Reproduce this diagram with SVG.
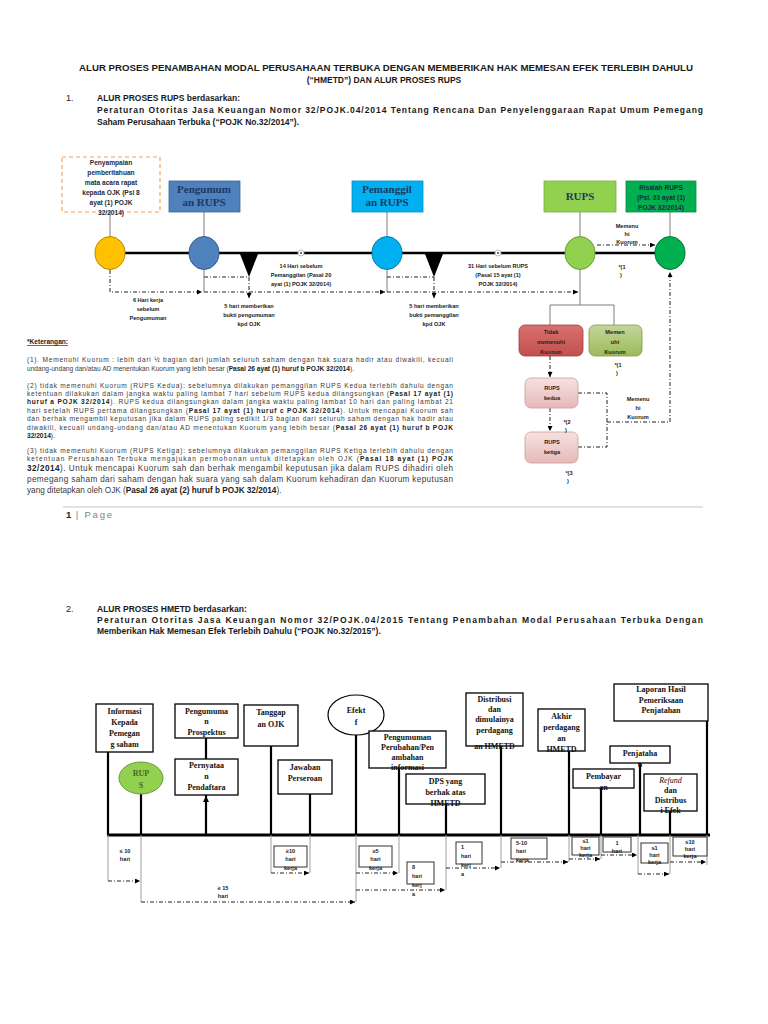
<svg xmlns="http://www.w3.org/2000/svg" width="768" height="1024" viewBox="0 0 768 1024">
<defs>
<marker id="ah" viewBox="0 0 6 6" refX="6" refY="3" markerWidth="5" markerHeight="5" orient="auto"><path d="M0,0 L6,3 L0,6 z" fill="#000"/></marker>
<linearGradient id="gRed" x1="0" y1="0" x2="0" y2="1"><stop offset="0" stop-color="#d9716e"/><stop offset="1" stop-color="#c0504d"/></linearGradient>
<linearGradient id="gGrn" x1="0" y1="0" x2="0" y2="1"><stop offset="0" stop-color="#c3d69b"/><stop offset="1" stop-color="#9bbb59"/></linearGradient>
<linearGradient id="gPnk" x1="0" y1="0" x2="0" y2="1"><stop offset="0" stop-color="#f5e1e0"/><stop offset="1" stop-color="#e6b9b8"/></linearGradient>
</defs>
<style>
.h{font-family:"Liberation Sans",Arial,sans-serif;font-weight:bold;font-size:8.5px;fill:#1a1a1a}
.n{font-family:"Liberation Sans",Arial,sans-serif;font-size:9px;fill:#1a1a1a}
.k{font-family:"Liberation Sans",Arial,sans-serif;font-size:6.6px;fill:#3a3a3a}
.kl{font-family:"Liberation Sans",Arial,sans-serif;font-size:8.2px;fill:#3a3a3a}
.kb{font-weight:bold;fill:#222}
.lb{font-family:"Liberation Serif","Times New Roman",serif;font-weight:bold;font-size:11px;fill:#1f3864;text-anchor:middle}
.lbs{font-family:"Liberation Sans",Arial,sans-serif;font-weight:bold;font-size:6.6px;fill:#1f2a3a;text-anchor:middle}
.sm{font-family:"Liberation Sans",Arial,sans-serif;font-weight:bold;font-size:5.6px;fill:#222;text-anchor:middle}
.b2{font-family:"Liberation Serif","Times New Roman",serif;font-weight:bold;font-size:8px;fill:#111;text-anchor:middle}
.tiny{font-family:"Liberation Sans",Arial,sans-serif;font-weight:bold;font-size:5.5px;fill:#222}
.tl{stroke:#7f7f7f;stroke-width:1;fill:none}
.dash{stroke:#222;stroke-width:1;fill:none;stroke-dasharray:4 2 1 2}
.box{fill:#fff;stroke:#000;stroke-width:1.3}
.vt{stroke:#000;stroke-width:2.2;fill:none}
.gl{stroke:#a0a0a0;stroke-width:1;fill:none}
.sb{fill:#fff;stroke:#333;stroke-width:1}
</style>
<rect width="768" height="1024" fill="#fff"/>

<!-- headings -->
<text class="h" x="79" y="71" textLength="614" lengthAdjust="spacingAndGlyphs">ALUR PROSES PENAMBAHAN MODAL PERUSAHAAN TERBUKA DENGAN MEMBERIKAN HAK MEMESAN EFEK TERLEBIH DAHULU</text>
<text class="h" x="384" y="83" text-anchor="middle">(“HMETD”) DAN ALUR PROSES RUPS</text>
<text class="n" x="66" y="101">1.</text>
<text class="h" x="97" y="101">ALUR PROSES RUPS berdasarkan:</text>
<text class="h" x="97" y="113" textLength="606" lengthAdjust="spacing">Peraturan Otoritas Jasa Keuangan Nomor 32/POJK.04/2014 Tentang Rencana Dan Penyelenggaraan Rapat Umum Pemegang</text>
<text class="h" x="97" y="125">Saham Perusahaan Terbuka (“POJK No.32/2014”).</text>

<!-- Diagram 1 connectors -->
<g id="connectors1">
<line x1="110" y1="253" x2="670" y2="253" stroke="#000" stroke-width="2.5"/>
<path class="tl" d="M110,212 V236 M204,212 V236 M387,212 V236 M580,212 V236 M670,212 V236"/>
<path class="tl" d="M204,270 V292 M387,270 V292 M580,270 V305 M550,305 H614 M550,305 V325 M614,305 V325"/>
<path class="dash" d="M110,270 V292 H202" marker-end="url(#ah)"/>
<path class="dash" d="M204,292 H385" marker-end="url(#ah)"/>
<path class="dash" d="M387,292 H578" marker-end="url(#ah)"/>
<path class="dash" d="M204,277 H249"/>
<path class="dash" d="M249,277 V298" marker-end="url(#ah)"/>
<path class="dash" d="M387,277 H434"/>
<path class="dash" d="M434,277 V298" marker-end="url(#ah)"/>
<path class="dash" d="M597,245 H655" marker-end="url(#ah)"/>
<path class="dash" d="M550,356 V377" marker-end="url(#ah)"/>
<path class="dash" d="M550,408 V431" marker-end="url(#ah)"/>
<path class="dash" d="M578,393 H607 V447 H578"/>
<path class="dash" d="M607,422 H670 V272" marker-end="url(#ah)"/>
<path d="M240,254 H258 L249,277 Z" fill="#000"/>
<path d="M425,254 H443 L434,277 Z" fill="#000"/>
<circle cx="301" cy="253" r="3" fill="#fff" stroke="#bbb" stroke-width="1"/><circle cx="301" cy="253" r="1" fill="#444"/>
<circle cx="498" cy="253" r="3" fill="#fff" stroke="#bbb" stroke-width="1"/><circle cx="498" cy="253" r="1" fill="#444"/>
</g>

<!-- Diagram 1 nodes -->
<g id="n-penyampaian">
<rect x="62" y="157" width="98" height="55" fill="#fff" stroke="#f4a460" stroke-width="1.2" stroke-dasharray="4 3"/>
<text class="lbs" x="111" y="165">Penyampaian</text>
<text class="lbs" x="111" y="175">pemberitahuan</text>
<text class="lbs" x="111" y="185">mata acara rapat</text>
<text class="lbs" x="111" y="195">kepada OJK (Psl 8</text>
<text class="lbs" x="111" y="205">ayat (1) POJK</text>
<text class="lbs" x="111" y="215">32/2014)</text>
</g>
<g id="n-pengumuman">
<rect x="169" y="181" width="71" height="31" fill="#4f81bd" stroke="#3a6699" stroke-width="0.8"/>
<text class="lb" x="204" y="193">Pengumum</text>
<text class="lb" x="204" y="206">an RUPS</text>
</g>
<g id="n-pemanggilan">
<rect x="352" y="181" width="71" height="31" fill="#00b0f0" stroke="#0090c8" stroke-width="0.8"/>
<text class="lb" x="387" y="193">Pemanggil</text>
<text class="lb" x="387" y="206">an RUPS</text>
</g>
<g id="n-rups">
<rect x="544" y="181" width="72" height="31" fill="#92d050" stroke="#7ab040" stroke-width="0.8"/>
<text class="lb" x="580" y="200">RUPS</text>
</g>
<g id="n-risalah">
<rect x="626" y="181" width="70" height="31" fill="#00b050" stroke="#009040" stroke-width="0.8"/>
<text class="lbs" x="661" y="190">Risalah RUPS</text>
<text class="lbs" x="661" y="200">(Psl. 33 ayat (1)</text>
<text class="lbs" x="661" y="210">POJK 32/2014)</text>
</g>
<g id="c-yellow"><ellipse cx="110" cy="253" rx="15" ry="16.5" fill="#ffc000" stroke="#b58a00" stroke-width="1"/></g>
<g id="c-blue"><ellipse cx="204" cy="253" rx="15" ry="16.5" fill="#4f81bd" stroke="#385d8a" stroke-width="1"/></g>
<g id="c-cyan"><ellipse cx="387" cy="253" rx="15" ry="16.5" fill="#00b0f0" stroke="#0080b0" stroke-width="1"/></g>
<g id="c-lgreen"><ellipse cx="580" cy="253" rx="15" ry="16.5" fill="#92d050" stroke="#6a9a3a" stroke-width="1"/></g>
<g id="c-green"><ellipse cx="670" cy="253" rx="15" ry="16.5" fill="#00b050" stroke="#007a38" stroke-width="1"/></g>
<g id="n-tidak">
<rect x="519" y="325" width="64" height="31" rx="6" fill="url(#gRed)" stroke="#a03c3a" stroke-width="0.8"/>
<text class="sm" x="551" y="334">Tidak</text>
<text class="sm" x="551" y="344">memenuhi</text>
<text class="sm" x="551" y="354">Kuorum</text>
</g>
<g id="n-memenuhi">
<rect x="589" y="325" width="53" height="31" rx="6" fill="url(#gGrn)" stroke="#7f9a48" stroke-width="0.8"/>
<text class="sm" x="615" y="334">Memen</text>
<text class="sm" x="615" y="344">uhi</text>
<text class="sm" x="615" y="354">Kuorum</text>
</g>
<g id="n-kedua">
<rect x="525" y="378" width="53" height="30" rx="6" fill="url(#gPnk)" stroke="#d09a98" stroke-width="0.8"/>
<text class="sm" x="552" y="390">RUPS</text>
<text class="sm" x="552" y="400">kedua</text>
</g>
<g id="n-ketiga">
<rect x="525" y="432" width="53" height="31" rx="6" fill="url(#gPnk)" stroke="#d09a98" stroke-width="0.8"/>
<text class="sm" x="552" y="444">RUPS</text>
<text class="sm" x="552" y="454">ketiga</text>
</g>

<!-- Diagram 1 labels -->
<g id="labels1">
<text class="sm" x="301" y="268">14 Hari sebelum</text>
<text class="sm" x="301" y="277">Pemanggilan (Pasal 20</text>
<text class="sm" x="301" y="286">ayat (1) POJK 32/2014)</text>
<text class="sm" x="498" y="268">31 Hari sebelum RUPS</text>
<text class="sm" x="498" y="277">(Pasal 15 ayat (1)</text>
<text class="sm" x="498" y="286">POJK 32/2014)</text>
<text class="sm" x="148" y="302">6 Hari kerja</text>
<text class="sm" x="148" y="311">sebelum</text>
<text class="sm" x="148" y="320">Pengumuman</text>
<text class="sm" x="249" y="308">5 hari memberikan</text>
<text class="sm" x="249" y="317">bukti pengumuman</text>
<text class="sm" x="249" y="326">kpd OJK</text>
<text class="sm" x="434" y="308">5 hari memberikan</text>
<text class="sm" x="434" y="317">bukti pemanggilan</text>
<text class="sm" x="434" y="326">kpd OJK</text>
<text class="sm" x="627" y="228">Memenu</text>
<text class="sm" x="627" y="236">hi</text>
<text class="sm" x="627" y="244">Kuorum</text>
<text class="sm" x="622" y="269">*(1</text>
<text class="sm" x="621" y="277">)</text>
<text class="sm" x="618" y="367">*(1</text>
<text class="sm" x="617" y="375">)</text>
<text class="sm" x="567" y="424">*(2</text>
<text class="sm" x="566" y="432">)</text>
<text class="sm" x="569" y="475">*(3</text>
<text class="sm" x="568" y="483">)</text>
<text class="sm" x="638" y="401">Memenu</text>
<text class="sm" x="638" y="410">hi</text>
<text class="sm" x="638" y="419">Kuorum</text>
</g>

<!-- Keterangan -->
<g id="keterangan">
<text class="k kb" x="27" y="344" text-decoration="underline">*Keterangan:</text>
<text class="k" x="27" y="362" textLength="426" lengthAdjust="spacing">(1). Memenuhi Kuorum : lebih dari ½ bagian dari jumlah seluruh saham dengan hak suara hadir atau diwakili, kecuali</text>
<text class="k" x="27" y="371">undang-undang dan/atau AD menentukan Kuorum yang lebih besar (<tspan class="kb">Pasal 26 ayat (1) huruf b POJK 32/2014</tspan>).</text>
<text class="k" x="27" y="388" textLength="426" lengthAdjust="spacing">(2) tidak memenuhi Kuorum (RUPS Kedua): sebelumnya dilakukan pemanggilan RUPS Kedua terlebih dahulu dengan</text>
<text class="k" x="27" y="396" textLength="426" lengthAdjust="spacing">ketentuan dilakukan dalam jangka waktu paling lambat 7 hari sebelum RUPS kedua dilangsungkan (<tspan class="kb">Pasal 17 ayat (1)</tspan></text>
<text class="k" x="27" y="404" textLength="426" lengthAdjust="spacing"><tspan class="kb">huruf a POJK 32/2014</tspan>). RUPS kedua dilangsungkan dalam jangka waktu paling lambat 10 hari dan paling lambat 21</text>
<text class="k" x="27" y="413" textLength="426" lengthAdjust="spacing">hari setelah RUPS pertama dilangsungkan (<tspan class="kb">Pasal 17 ayat (1) huruf c POJK 32/2014</tspan>). Untuk mencapai Kuorum sah</text>
<text class="k" x="27" y="421" textLength="426" lengthAdjust="spacing">dan berhak mengambil keputusan jika dalam RUPS paling sedikit 1/3 bagian dari seluruh saham dengan hak hadir atau</text>
<text class="k" x="27" y="430" textLength="426" lengthAdjust="spacing">diwakili, kecuali undang-undang dan/atau AD menentukan Kuorum yang lebih besar (<tspan class="kb">Pasal 26 ayat (1) huruf b POJK</tspan></text>
<text class="k kb" x="27" y="438">32/2014<tspan font-weight="normal">).</tspan></text>
<text class="k" x="27" y="453" textLength="426" lengthAdjust="spacing">(3) tidak memenuhi Kuorum (RUPS Ketiga): sebelumnya dilakukan pemanggilan RUPS Ketiga terlebih dahulu dengan</text>
<text class="k" x="27" y="461" textLength="426" lengthAdjust="spacing">ketentuan Perusahaan Terbuka mengajukan permohonan untuk ditetapkan oleh OJK (<tspan class="kb">Pasal 18 ayat (1) POJK</tspan></text>
<text class="kl" x="27" y="471" textLength="426" lengthAdjust="spacing"><tspan class="kb">32/2014</tspan>). Untuk mencapai Kuorum sah dan berhak mengambil keputusan jika dalam RUPS dihadiri oleh</text>
<text class="kl" x="27" y="482" textLength="426" lengthAdjust="spacing">pemegang saham dari saham dengan hak suara yang sah dalam Kuorum kehadiran dan Kuorum keputusan</text>
<text class="kl" x="27" y="493">yang ditetapkan oleh OJK (<tspan class="kb">Pasal 26 ayat (2) huruf b POJK 32/2014</tspan>).</text>
</g>

<!-- footer -->
<line x1="63" y1="507" x2="703" y2="507" stroke="#d9d9d9" stroke-width="1.5"/>
<text x="66" y="518" font-family="Liberation Sans,Arial,sans-serif" font-size="9.5" font-weight="bold" fill="#222">1<tspan font-weight="normal" fill="#7f7f7f" letter-spacing="1.8"> | Page</tspan></text>

<!-- section 2 heading -->
<text class="n" x="66" y="612">2.</text>
<text class="h" x="97" y="612">ALUR PROSES HMETD berdasarkan:</text>
<text class="h" x="97" y="623" textLength="606" lengthAdjust="spacing">Peraturan Otoritas Jasa Keuangan Nomor 32/POJK.04/2015 Tentang Penambahan Modal Perusahaan Terbuka Dengan</text>
<text class="h" x="97" y="634">Memberikan Hak Memesan Efek Terlebih Dahulu (“POJK No.32/2015”).</text>

<!-- Diagram 2 connectors -->
<g id="connectors2">
<line x1="107" y1="835" x2="710" y2="835" stroke="#000" stroke-width="3"/>
<path class="vt" d="M108,752 V835 M141,794 V835 M206,738 V759 M206,795 V835 M271,746 V835 M310,794 V835 M356,735 V835 M399,768 V835 M446,804 V835 M501,746 V835 M569,751 V835 M601,788 V835 M640,763 V835 M670,811 V835 M707,721 V835"/>
<path d="M203,802 L206,796 L209,802 Z" fill="#000"/>
<path class="gl" d="M108,835 V881 M141,835 V902 M271,835 V873 M310,835 V873 M356,835 V902 M399,835 V873 M446,835 V890 M501,835 V868 M569,835 V862 M601,835 V859 M638,835 V874 M670,835 V874 M707,835 V865"/>
<path class="dash" d="M108,881 H140" marker-end="url(#ah)"/>
<path class="dash" d="M141,902 H355" marker-end="url(#ah)"/>
<path class="dash" d="M271,873 H309" marker-end="url(#ah)"/>
<path class="dash" d="M356,873 H398" marker-end="url(#ah)"/>
<path class="dash" d="M356,890 H445" marker-end="url(#ah)"/>
<path class="dash" d="M446,868 H500" marker-end="url(#ah)"/>
<path class="dash" d="M501,862 H568" marker-end="url(#ah)"/>
<path class="dash" d="M569,859 H600" marker-end="url(#ah)"/>
<path class="dash" d="M601,855 H637" marker-end="url(#ah)"/>
<path class="dash" d="M638,874 H669" marker-end="url(#ah)"/>
<path class="dash" d="M670,862 H706" marker-end="url(#ah)"/>
</g>

<!-- Diagram 2 nodes -->
<g id="m-informasi"><rect class="box" x="96" y="704" width="57" height="48"/>
<text class="b2" x="124.5" y="714">Informasi</text><text class="b2" x="124.5" y="725">Kepada</text><text class="b2" x="124.5" y="736">Pemegan</text><text class="b2" x="124.5" y="747">g saham</text></g>
<g id="m-rups"><ellipse cx="141" cy="778" rx="22" ry="16" fill="#92d050" stroke="#6a9a3a" stroke-width="1"/>
<text class="b2" x="141" y="776" fill="#4f6228" style="fill:#4f6228">RUP</text><text class="b2" x="141" y="788" style="fill:#4f6228">S</text></g>
<g id="m-prospektus"><rect class="box" x="175" y="704" width="63" height="34"/>
<text class="b2" x="206.5" y="714">Pengumuma</text><text class="b2" x="206.5" y="724">n</text><text class="b2" x="206.5" y="735">Prospektus</text></g>
<g id="m-pernyataan"><rect class="box" x="175" y="759" width="63" height="36"/>
<text class="b2" x="206.5" y="768">Pernyataa</text><text class="b2" x="206.5" y="779">n</text><text class="b2" x="206.5" y="790">Pendaftara</text></g>
<g id="m-tanggapan"><rect class="box" x="244" y="705" width="54" height="41"/>
<text class="b2" x="271" y="715">Tanggap</text><text class="b2" x="271" y="727">an OJK</text></g>
<g id="m-jawaban"><rect class="box" x="278" y="760" width="54" height="34"/>
<text class="b2" x="305" y="770">Jawaban</text><text class="b2" x="305" y="781">Perseroan</text></g>
<g id="m-efektif"><ellipse cx="356" cy="715" rx="28" ry="20" fill="#fff" stroke="#000" stroke-width="1.2"/>
<text class="b2" x="356" y="713">Efekt</text><text class="b2" x="356" y="725">f</text></g>
<g id="m-perubahan"><rect class="box" x="369" y="731" width="77" height="37"/>
<text class="b2" x="407.5" y="740">Pengumuman</text><text class="b2" x="407.5" y="750">Perubahan/Pen</text><text class="b2" x="407.5" y="760">ambahan</text><text class="b2" x="407.5" y="770">informasi</text></g>
<g id="m-dps"><rect class="box" x="406" y="774" width="79" height="30"/>
<text class="b2" x="445.5" y="784">DPS yang</text><text class="b2" x="445.5" y="795">berhak atas</text><text class="b2" x="445.5" y="806">HMETD</text></g>
<g id="m-distribusi"><rect class="box" x="466" y="693" width="57" height="53"/>
<text class="b2" x="494.5" y="702">Distribusi</text><text class="b2" x="494.5" y="712">dan</text><text class="b2" x="494.5" y="722">dimulainya</text><text class="b2" x="494.5" y="733">perdagang</text><text class="b2" x="494.5" y="749">an HMETD</text></g>
<g id="m-akhir"><rect class="box" x="538" y="709" width="47" height="42"/>
<text class="b2" x="561.5" y="719">Akhir</text><text class="b2" x="561.5" y="730">perdagang</text><text class="b2" x="561.5" y="741">an</text><text class="b2" x="561.5" y="752">HMETD</text></g>
<g id="m-laporan"><rect class="box" x="614" y="684" width="94" height="37"/>
<text class="b2" x="661" y="692">Laporan Hasil</text><text class="b2" x="661" y="703">Pemeriksaan</text><text class="b2" x="661" y="713">Penjatahan</text></g>
<g id="m-penjatahan"><rect class="box" x="610" y="746" width="60" height="17"/>
<text class="b2" x="640" y="756">Penjataha</text><text class="b2" x="640" y="767">n</text></g>
<g id="m-pembayaran"><rect class="box" x="573" y="769" width="61" height="19"/>
<text class="b2" x="603.5" y="779">Pembayar</text><text class="b2" x="603.5" y="790">an</text></g>
<g id="m-refund"><rect class="box" x="644" y="774" width="53" height="37"/>
<text class="b2" x="670.5" y="783" font-style="italic" style="font-weight:normal">Refund</text><text class="b2" x="670.5" y="793">dan</text><text class="b2" x="670.5" y="803">Distribus</text><text class="b2" x="670.5" y="813">i Efek</text></g>

<!-- Diagram 2 duration labels -->
<g id="durations">
<text class="sm" x="125" y="853">≤ 10</text><text class="sm" x="125" y="861">hari</text>
<text class="sm" x="223" y="890">≥ 15</text><text class="sm" x="223" y="898">hari</text>
<rect class="sb" x="274" y="846" width="33" height="21"/>
<text class="sm" x="290.5" y="853">≥10</text><text class="sm" x="290.5" y="861">hari</text><text class="sm" x="290.5" y="870">kerja</text>
<rect class="sb" x="359" y="846" width="33" height="21"/>
<text class="sm" x="375.5" y="853">≥5</text><text class="sm" x="375.5" y="861">hari</text><text class="sm" x="375.5" y="870">kerja</text>
<rect class="sb" x="407" y="862" width="27" height="22"/>
<text class="tiny" x="412" y="869">8</text><text class="tiny" x="412" y="878">hari</text><text class="tiny" x="412" y="887">kerj</text><text class="tiny" x="412" y="896">a</text>
<rect class="sb" x="456" y="842" width="26" height="22"/>
<text class="tiny" x="461" y="849">1</text><text class="tiny" x="461" y="858">hari</text><text class="tiny" x="461" y="867">kerj</text><text class="tiny" x="461" y="876">a</text>
<rect class="sb" x="511" y="838" width="36" height="21"/>
<text class="tiny" x="516" y="845">5-10</text><text class="tiny" x="516" y="853">hari</text><text class="tiny" x="516" y="862">kerja</text>
<rect class="sb" x="572" y="837" width="27" height="18"/>
<text class="sm" x="585.5" y="843">≤1</text><text class="sm" x="585.5" y="850">hari</text><text class="sm" x="585.5" y="857">kerja</text>
<rect class="sb" x="603" y="837" width="28" height="15"/>
<text class="sm" x="617" y="845">1</text><text class="sm" x="617" y="853">hari</text>
<rect class="sb" x="641" y="843" width="27" height="20"/>
<text class="sm" x="654.5" y="850">≤1</text><text class="sm" x="654.5" y="857">hari</text><text class="sm" x="654.5" y="864">kerja</text>
<rect class="sb" x="673" y="837" width="34" height="19"/>
<text class="sm" x="690" y="844">≤10</text><text class="sm" x="690" y="851">hari</text><text class="sm" x="690" y="858">kerja</text>
</g>
</svg>
